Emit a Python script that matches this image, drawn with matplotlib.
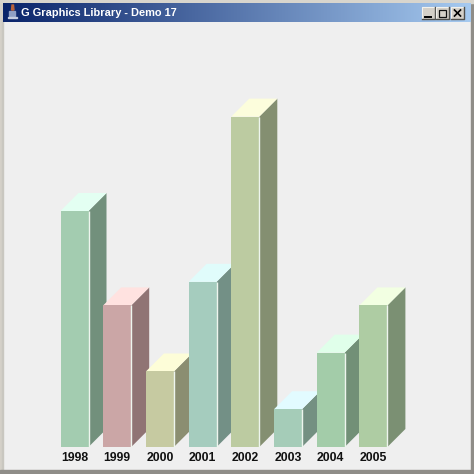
import numpy as np
import matplotlib
matplotlib.use('Agg')
import matplotlib.pyplot as plt
from matplotlib.patches import Polygon, Rectangle

# chart data
years = ['1998', '1999', '2000', '2001', '2002', '2003', '2004', '2005']
values = [50, 30, 16, 35, 70, 8, 20, 30]
front_colors = ['#a3ccb0', '#cba6a6', '#c6caa1', '#a5ccbe', '#bccba1', '#a5ccb8', '#a3cca9', '#aecca3']
top_colors = ['#e3fff2', '#ffe2e0', '#fdfdd8', '#e0fcfb', '#fcfddc', '#e2fbff', '#e0ffea', '#f2ffe2']
side_colors = ['#72907c', '#907474', '#8b8e71', '#739086', '#848f71', '#749082', '#729077', '#7b9073']

title = 'G Graphics Library - Demo 17'
bg = '#efefef'

fig = plt.figure(figsize=(4.74, 4.74), dpi=100, facecolor=bg)
plt.rcParams['font.family'] = ['Liberation Sans', 'DejaVu Sans']

# window frame, in pixel coordinates
win = fig.add_axes([0, 0, 1, 1])
win.set_xlim(0, 474)
win.set_ylim(474, 0)
win.axis('off')
win.add_patch(Rectangle((0, 0), 2, 474, color='#d4d0c8'))
win.add_patch(Rectangle((2, 20), 1, 450, color='#c9c7c0'))
win.add_patch(Rectangle((471, 0), 3, 474, color='#8f8d88'))
win.add_patch(Rectangle((0, 470), 474, 4, color='#8f8d88'))
win.add_patch(Rectangle((0, 0), 474, 3, color='#d8d5cd'))

gradient = np.linspace(0, 1, 256).reshape(1, -1, 1)
start = np.array([0x0a, 0x24, 0x6a]) / 255
end = np.array([0xa6, 0xca, 0xf0]) / 255
win.imshow(start + gradient * (end - start), extent=(3, 471, 21.5, 3), aspect='auto', zorder=1)
win.set_xlim(0, 474)
win.set_ylim(474, 0)
win.text(21.5, 12.5, title, color='white', fontsize=7.9, fontweight='bold', va='center', ha='left', zorder=3)

# small java cup icon
win.add_patch(Rectangle((9.5, 11), 6, 4.5, color='#8f9fc4', zorder=3))
win.add_patch(Polygon([(12, 5), (13.5, 5), (14, 10), (11.5, 10)], color='#b8623a', zorder=3))
win.add_patch(Rectangle((8, 16.5), 9, 1.5, color='#c6cde0', zorder=3))

# title bar buttons
for bx in [422, 436, 451]:
    win.add_patch(Rectangle((bx, 7), 13, 12, facecolor='#d4d0c8', edgecolor='none', zorder=3))
    win.plot([bx, bx, bx + 13], [19, 7, 7], color='#f2f1ec', lw=0.8, zorder=4)
    win.plot([bx, bx + 13, bx + 13], [19, 19, 7], color='#50504c', lw=1, zorder=4)
win.plot([425, 431], [16.5, 16.5], color='black', lw=1.4, zorder=5)
win.add_patch(Rectangle((439, 9.5), 7, 7, facecolor='none', edgecolor='#111111', lw=0.9, zorder=5))
win.plot([454.5, 460.5], [10, 16], color='black', lw=1.2, zorder=5)
win.plot([460.5, 454.5], [10, 16], color='black', lw=1.2, zorder=5)

# chart axes: one x unit = 42.7 px, one y unit = 4.72 px, baseline at 447 px
x0, base, x_unit, y_unit = 74.5, 447.0, 42.7, 4.72
ax = fig.add_axes([0, 0, 1, 1])
ax.patch.set_alpha(0)
ax.set_xlim(-x0 / x_unit, (474 - x0) / x_unit)
ax.set_ylim(-(474 - base) / y_unit, base / y_unit)
ax.axis('off')

half = 14 / x_unit
dx = 18 / x_unit
dy = 18 / y_unit

# later bars sit on top, so each one covers the side of the bar before it
for i, (year, v) in enumerate(zip(years, values)):
    l, r = i - half, i + half
    ax.add_patch(Polygon([(r, 0), (r + dx, dy), (r + dx, v + dy), (r, v)], color=side_colors[i], lw=0, zorder=2 + i))
    ax.add_patch(Polygon([(l, v), (l + dx, v + dy), (r + dx, v + dy), (r, v)], color=top_colors[i], lw=0, zorder=2 + i))
    ax.add_patch(Rectangle((l, 0), r - l, v, color=front_colors[i], lw=0, zorder=3 + i))
    ax.plot([r, r], [0, v], color='#eef5ee', lw=1, zorder=3 + i, solid_capstyle='butt')
    ax.text(i, -2.4, year, ha='center', va='center', fontsize=8.8, fontweight='bold', color='#111111')

fig.savefig('out.png', dpi=100, facecolor=fig.get_facecolor())
